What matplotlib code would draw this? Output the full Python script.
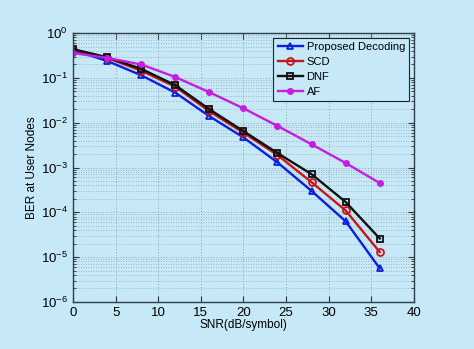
import matplotlib.pyplot as plt
from matplotlib.ticker import LogLocator, NullFormatter

plt.rcParams['font.family'] = ['Liberation Sans', 'DejaVu Sans']

snr = [0, 4, 8, 12, 16, 20, 24, 28, 32, 36]
ber_proposed = [0.42, 0.24, 0.115, 0.047, 0.014, 0.0047, 0.0013, 3.0e-4, 6.3e-5, 5.6e-6]
ber_scd = [0.43, 0.28, 0.145, 0.064, 0.018, 0.006, 0.0019, 4.7e-4, 1.1e-4, 1.3e-5]
ber_dnf = [0.44, 0.29, 0.16, 0.069, 0.020, 0.0065, 0.0021, 7.1e-4, 1.7e-4, 2.6e-5]
ber_af = [0.36, 0.28, 0.20, 0.105, 0.048, 0.021, 0.0085, 0.0033, 1.26e-3, 4.5e-4]
yticks = [1e-6, 1e-5, 1e-4, 1e-3, 1e-2, 1e-1, 1e0]

bg = '#c6e8f7'
fig = plt.figure(figsize=(4.74, 3.49), dpi=100, facecolor=bg)
ax = fig.add_axes([0.154, 0.135, 0.719, 0.77], facecolor=bg)

ax.semilogy(snr, ber_proposed, '-^', color='#0a1fe0', lw=1.7, ms=5, mfc='none', mew=1.3, label='Proposed Decoding')
ax.semilogy(snr, ber_scd, '-o', color='#c8141a', lw=1.7, ms=5, mfc='none', mew=1.3, label='SCD')
ax.semilogy(snr, ber_dnf, '-s', color='#111111', lw=1.7, ms=4.5, mfc='none', mew=1.3, label='DNF')
ax.semilogy(snr, ber_af, '-o', color='#c41ee0', lw=1.7, ms=4, label='AF')

ax.set_xlim(0, 40)
ax.set_ylim(1e-6, 1)
ax.set_xticks(range(0, 41, 5))
ax.set_yticks(yticks)
ax.yaxis.set_minor_locator(LogLocator(base=10, subs=range(2, 10), numticks=20))
ax.yaxis.set_minor_formatter(NullFormatter())

ax.grid(True, which='major', ls=(0, (1, 2)), color='#8fa5b0', lw=0.7)
ax.grid(True, which='minor', axis='y', ls=(0, (1, 2)), color='#8fa5b0', lw=0.6)
ax.tick_params(which='both', direction='in', top=True, right=True, labelsize=9.5, color='#333333')
ax.tick_params(which='major', length=4)
ax.tick_params(which='minor', length=2)
for s in ax.spines.values():
    s.set_color('#2f3f47')
    s.set_linewidth(1.0)

ax.set_xlabel('SNR(dB/symbol)', fontsize=8.5, labelpad=0)
ax.set_ylabel('BER at User Nodes', fontsize=8.5, labelpad=2)

leg = ax.legend(loc='upper right', fontsize=8, fancybox=False, framealpha=1,
                facecolor=bg, edgecolor='#222222', handlelength=2.3, handletextpad=0.3,
                labelspacing=0.45, borderaxespad=0.4)
leg.get_frame().set_linewidth(0.8)

plt.savefig('out.png', dpi=100, facecolor=bg)
